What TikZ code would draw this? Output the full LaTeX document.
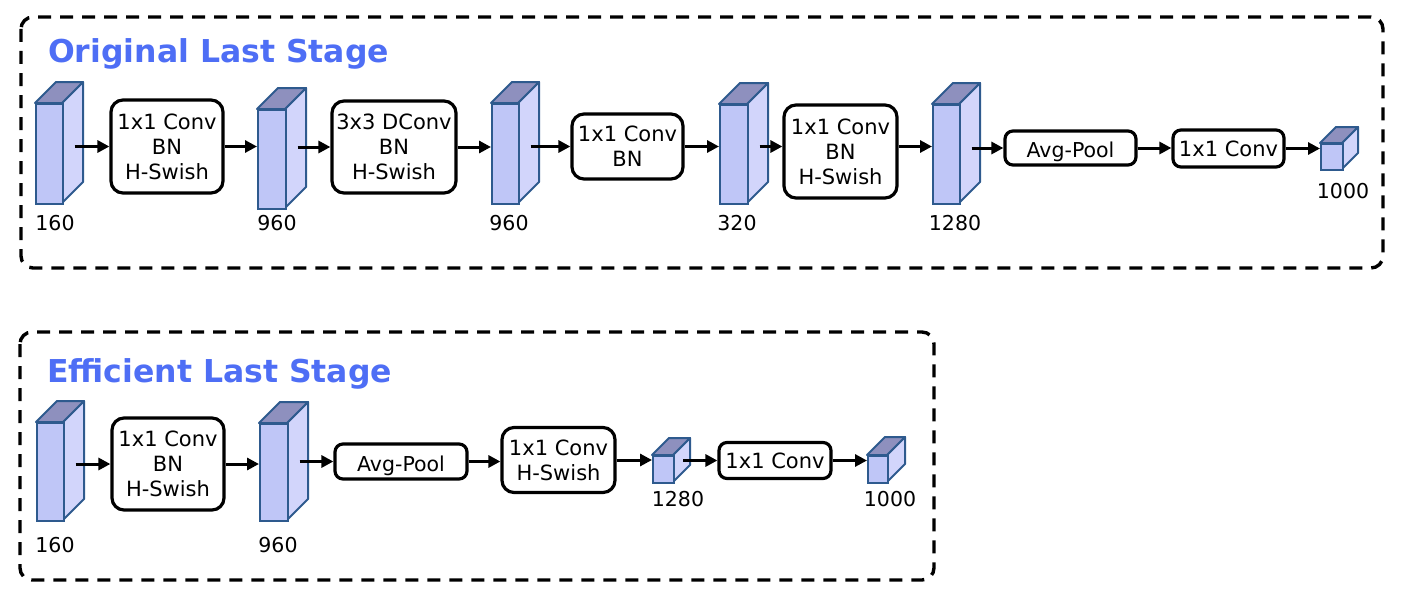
\documentclass[tikz,border=0pt]{standalone}
\usepackage{fontspec}
\setmainfont{DejaVu Sans}
\usetikzlibrary{arrows.meta}
\definecolor{titleblue}{RGB}{78,110,245}
\definecolor{cubefrontc}{RGB}{191,198,247}
\definecolor{cubesidec}{RGB}{210,213,251}
\definecolor{cubetopc}{RGB}{142,144,190}
\definecolor{cubeedge}{RGB}{46,90,142}
\tikzset{
  stagebox/.style={draw=black, line width=3.4pt, dash pattern=on 13pt off 9pt, rounded corners=12pt},
  stagetitle/.style={anchor=base west, inner sep=0pt, text=titleblue, font=\bfseries\fontsize{31.5}{36}\selectfont},
  opbox/.style={draw=black, line width=3.2pt, rounded corners=12pt, fill=white, align=center, inner sep=0pt, font=\fontsize{21}{25}\selectfont},
  smallbox/.style={opbox, rounded corners=8pt},
  lab/.style={inner sep=0pt, font=\fontsize{20.5}{24}\selectfont},
  arr/.style={draw=black, line width=3pt, -{Triangle[length=12pt,width=12pt]}},
  cubefront/.style={draw=cubeedge, fill=cubefrontc, line width=2pt, inner sep=0pt, anchor=north west},
  cubeface/.style={draw=cubeedge, line width=2pt, line join=round},
}
% name, x, y (top-left of front face), width, height, depth
\newcommand\fmcube[6]{%
  \filldraw[cubeface, fill=cubesidec] ({#2+#4},{#3}) -- ({#2+#4+#6},{#3-#6}) -- ({#2+#4+#6},{#3+#5-#6}) -- ({#2+#4},{#3+#5}) -- cycle;
  \filldraw[cubeface, fill=cubetopc] ({#2},{#3}) -- ({#2+#6},{#3-#6}) -- ({#2+#4+#6},{#3-#6}) -- ({#2+#4},{#3}) -- cycle;
  \node[cubefront, minimum width=#4pt, minimum height=#5pt] (#1) at ({#2},{#3}) {};
  \coordinate (#1-out) at ({#2+#4+0.6*#6},{#3+0.5*#5});
}
\begin{document}
\begin{tikzpicture}[x=1pt,y=-1pt]
\useasboundingbox (0,0) rectangle (1402,594);

% ---------- Original last stage ----------
\draw[stagebox] (21,17) rectangle (1383,268);
\node[stagetitle] (t1) at (48,63) {Original Last Stage};

\fmcube{c1}{35}{103}{27}{100}{21}
\node[opbox, minimum width=112pt, minimum height=93pt] (b1) at (167,146.5) {1x1 Conv\\BN\\H-Swish};
\fmcube{c2}{257}{109}{28}{99}{21}
\node[opbox, minimum width=124pt, minimum height=92pt] (b2) at (394,147) {3x3 DConv\\BN\\H-Swish};
\fmcube{c3}{491}{103}{27}{100}{21}
\node[opbox, minimum width=111pt, minimum height=65pt] (b3) at (627.5,146.5) {1x1 Conv\\BN};
\fmcube{c4}{719}{104}{28}{99}{21}
\node[opbox, minimum width=113pt, minimum height=93pt] (b4) at (840.5,151.5) {1x1 Conv\\BN\\H-Swish};
\fmcube{c5}{932}{104}{27}{99}{21}
\node[smallbox, minimum width=131pt, minimum height=34pt] (b5) at (1070.5,148) {};
\node[lab, font=\fontsize{20.5}{24}\selectfont] (b5t) at (1070.5,152) {Avg-Pool};
\node[smallbox, minimum width=111pt, minimum height=37pt] (b6) at (1228.5,148.5) {1x1 Conv};
\fmcube{c6}{1320}{143}{22}{26}{16}

\node[lab] (l1) at (55,223) {160};
\node[lab] (l2) at (277,223) {960};
\node[lab] (l3) at (509,223) {960};
\node[lab] (l4) at (737,223) {320};
\node[lab] (l5) at (955,223) {1280};
\node[lab] (l6) at (1343,191) {1000};

\draw[arr] (c1-out |- b1.west) -- (b1.west);
\draw[arr] (b1.east) -- (b1.east -| c2.west);
\draw[arr] (c2-out |- b2.west) -- (b2.west);
\draw[arr] (b2.east) -- (b2.east -| c3.west);
\draw[arr] (c3-out |- b3.west) -- (b3.west);
\draw[arr] (b3.east) -- (b3.east -| c4.west);
\draw[arr] (c4-out |- b3.west) -- (b3.west -| b4.west);
\draw[arr] (b4.east |- b3.east) -- (b3.east -| c5.west);
\draw[arr] (c5-out |- b5.west) -- (b5.west);
\draw[arr] (b5.east) -- (b5.east -| b6.west);
\draw[arr] (b6.east) -- (b6.east -| c6.west);

% ---------- Efficient last stage ----------
\draw[stagebox] (20,332) rectangle (934,580);
\node[stagetitle] (t2) at (47,382) {Efficient Last Stage};

\fmcube{cA}{36}{422}{27}{98}{21}
\node[opbox, minimum width=112pt, minimum height=92pt] (bA) at (168,464) {1x1 Conv\\BN\\H-Swish};
\fmcube{cB}{259}{423}{28}{97}{21}
\node[smallbox, minimum width=132pt, minimum height=35pt] (bB) at (401,461.5) {};
\node[lab, font=\fontsize{20.5}{24}\selectfont] (bBt) at (401,465.5) {Avg-Pool};
\node[opbox, minimum width=113pt, minimum height=65pt] (bC) at (558.5,460) {1x1 Conv\\H-Swish};
\fmcube{cC}{652}{455}{21}{27}{17}
\node[smallbox, minimum width=112pt, minimum height=36pt] (bD) at (775,460.5) {1x1 Conv};
\fmcube{cD}{867}{455}{20}{27}{18}

\node[lab] (lA) at (55,545) {160};
\node[lab] (lB) at (278,545) {960};
\node[lab] (lC) at (678,499) {1280};
\node[lab] (lD) at (890,499) {1000};

\draw[arr] (cA-out |- bA.west) -- (bA.west);
\draw[arr] (bA.east) -- (bA.east -| cB.west);
\draw[arr] (cB-out |- bB.west) -- (bB.west);
\draw[arr] (bB.east) -- (bB.east -| bC.west);
\draw[arr] (bC.east) -- (bC.east -| cC.west);
\draw[arr] (cC-out |- bD.west) -- (bD.west);
\draw[arr] (bD.east) -- (bD.east -| cD.west);
\end{tikzpicture}
\end{document}
